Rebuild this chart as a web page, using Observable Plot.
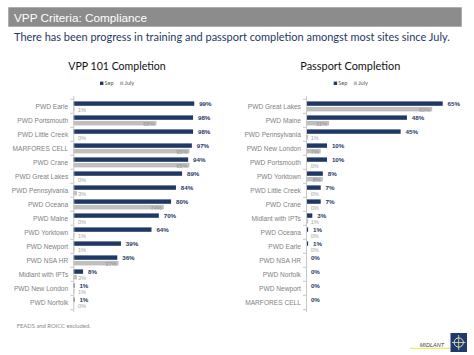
<!DOCTYPE html>
<html><head><meta charset="utf-8">
<script src="https://cdn.jsdelivr.net/npm/d3@7"></script>
<script src="https://cdn.jsdelivr.net/npm/@observablehq/plot@0.6"></script>
<style>
body{margin:0;background:#fff;}
#wrap{position:relative;width:474px;height:355px;overflow:hidden;background:#fff;}
#wrap > svg{position:absolute;left:0;top:0;}
</style></head><body><div id="wrap"></div>
<script>
// ---- data ----
const vppSites = ["PWD Earle","PWD Portsmouth","PWD Little Creek","MARFORES CELL","PWD Crane","PWD Great Lakes","PWD Pennsylvania","PWD Oceana","PWD Maine","PWD Yorktown","PWD Newport","PWD NSA HR","Midlant with IPTs","PWD New London","PWD Norfolk"];
const vppSep  = [99,98,98,97,94,89,84,80,70,64,39,36,8,1,1];
const vppJuly = [1,68,0,95,95,0,3,74,0,1,1,37,3,1,0];

const ppSites = ["PWD Great Lakes","PWD Maine","PWD Pennsylvania","PWD New London","PWD Portsmouth","PWD Yorktown","PWD Little Creek","PWD Crane","Midlant with IPTs","PWD Oceana","PWD Earle","PWD NSA HR","PWD Norfolk","PWD Newport","MARFORES CELL"];
const ppSep  = [65,48,45,10,10,8,7,7,3,1,1,0,0,0,0];
const ppJuly = [60,11,1,7,0,8,0,0,1,0,0,null,null,null,null];

const seriesNames = ["Sep","July"];
const title = "VPP Criteria: Compliance";
const subtitle = "There has been progress in training and passport completion amongst most sites since July.";
const chartTitles = ["VPP 101 Completion","Passport Completion"];
const footnote = "FEADS and ROICC excluded.";

const navy = "#1f3864", lightGray = "#bfbfbf";
const wrap = document.getElementById("wrap");

function chart(sites, sep, july, x0, x100) {
  const data = sites.map((s,i)=>({site:s, sep:sep[i], july:july[i]}));
  const ppu = (x100-x0)/100;
  const top = 96, bottom = 312;
  const bw = (bottom-top)/sites.length;
  const jl = data.filter(d => d.july != null);
  const fits = d => d.july*ppu > 13;
  const pct = v => v + "%";
  return Plot.plot({
    width:474, height:355, marginTop:top, marginBottom:355-bottom, marginLeft:x0, marginRight:0,
    style:{background:"transparent", fontFamily:"'Liberation Sans', Arial, sans-serif", overflow:"visible"},
    x:{domain:[0,100], range:[x0,x100], axis:null},
    y:{domain:sites, padding:0, axis:null, label:null},
    marks:[
      Plot.barX(jl,{x:"july", y:"site", fill:lightGray, insetTop:7.9, insetBottom:1.6}),
      Plot.barX(data,{x:"sep", y:"site", fill:navy, insetTop:2.4, insetBottom:7.2}),
      Plot.ruleX([0],{stroke:"#c8c8c8"}),
      Plot.axisY({tickSize:3, tickFormat:()=>"", label:null, dy:-bw/2, stroke:"#c8c8c8"}),
      Plot.axisY({ticks:[sites[sites.length-1]], tickSize:3, tickFormat:()=>"", label:null, dy:bw/2, stroke:"#c8c8c8"}),
      Plot.axisY({tickSize:0, tickPadding:5.6, label:null, fontSize:6.6, fill:"#7f7f7f", fontFamily:"'Liberation Sans', Arial, sans-serif"}),
      Plot.text(data,{x:"sep", y:"site", text:d=>pct(d.sep), textAnchor:"start", dx:4.4, dy:-2.6, fill:navy, fontWeight:"bold", fontSize:6.2}),
      Plot.text(jl.filter(fits),{x:"july", y:"site", text:d=>pct(d.july), textAnchor:"end", dx:-2.5, dy:3.3, fill:"#949494", fontSize:5.6}),
      Plot.text(jl.filter(d=>!fits(d)),{x:d=>0, y:"site", text:d=>pct(d.july), textAnchor:"start", dx:4.2, dy:3.3, fill:"#a6a6a6", fontSize:5.6})
    ]
  });
}

wrap.appendChild(chart(vppSites, vppSep, vppJuly, 73.3, 195.5));
wrap.appendChild(chart(ppSites, ppSep, ppJuly, 306, 516.3));

// ---- decoration ----
const svg = d3.select(wrap).append("svg").attr("width",474).attr("height",355);
svg.append("rect").attr("x",8.3).attr("y",7.3).attr("width",453.4).attr("height",19.4).attr("fill","#8c8c8c");
const fitted = [];
function txt(s, x, y, opts, targetW) {
  const t = svg.append("text").attr("x",x).attr("y",y).text(s);
  for (const k in opts) t.style(k, opts[k]);
  if (targetW) fitted.push([t, targetW, parseFloat(opts["font-size"])]);
  return t;
}
txt(title, 14, 21.7, {"font-family":"'Liberation Sans', Arial, sans-serif","font-size":"11.7px","fill":"#ffffff"}, 133);
txt(subtitle, 14, 40.7, {"font-family":"Lato, sans-serif","font-size":"11px","fill":"#1f3864"}, 436);
txt(chartTitles[0], 68.3, 70, {"font-family":"Lato, sans-serif","font-size":"11px","fill":"#111"}, 97.4);
txt(chartTitles[1], 300.3, 70, {"font-family":"Lato, sans-serif","font-size":"11px","fill":"#111"}, 100);
txt(footnote, 16.7, 327.5, {"font-family":"Lato, sans-serif","font-size":"6px","fill":"#8a8a8a"}, 74);

function legend(x) {
  const g = svg.append("g");
  g.append("rect").attr("x",x).attr("y",81.6).attr("width",3.4).attr("height",3.4).attr("fill",navy);
  txt(seriesNames[0], x+4.6, 85.2, {"font-family":"Lato, sans-serif","font-size":"5.6px","fill":"#595959"});
  g.append("rect").attr("x",x+20).attr("y",81.6).attr("width",3.4).attr("height",3.4).attr("fill",lightGray);
  txt(seriesNames[1], x+24.6, 85.2, {"font-family":"Lato, sans-serif","font-size":"5.6px","fill":"#595959"});
}
legend(100);
legend(333.7);

// MIDLANT logo
svg.append("line").attr("x1",410).attr("x2",451).attr("y1",348.3).attr("y2",348.3).attr("stroke","#e8e83a").attr("stroke-width",1);
txt("MIDLANT", 419.7, 346.6, {"font-family":"'Liberation Sans', Arial, sans-serif","font-size":"5.6px","font-style":"italic","fill":"#404040"}, 24.6);
svg.append("rect").attr("x",450.5).attr("y",333).attr("width",16.5).attr("height",19).attr("fill","#1f3a6e");
svg.append("circle").attr("cx",458.7).attr("cy",342.5).attr("r",4.6).attr("fill","none").attr("stroke","#e9e6b0").attr("stroke-width",1);
svg.append("line").attr("x1",452).attr("x2",465.5).attr("y1",342.5).attr("y2",342.5).attr("stroke","#e9e6b0").attr("stroke-width",0.8);
svg.append("line").attr("x1",458.7).attr("x2",458.7).attr("y1",335).attr("y2",350).attr("stroke","#e9e6b0").attr("stroke-width",0.8);

for (const [t, w, fs] of fitted) {
  const len = t.node().getComputedTextLength();
  if (len > 0) t.style("font-size", (fs*w/len) + "px");
}
</script>
</body></html>
